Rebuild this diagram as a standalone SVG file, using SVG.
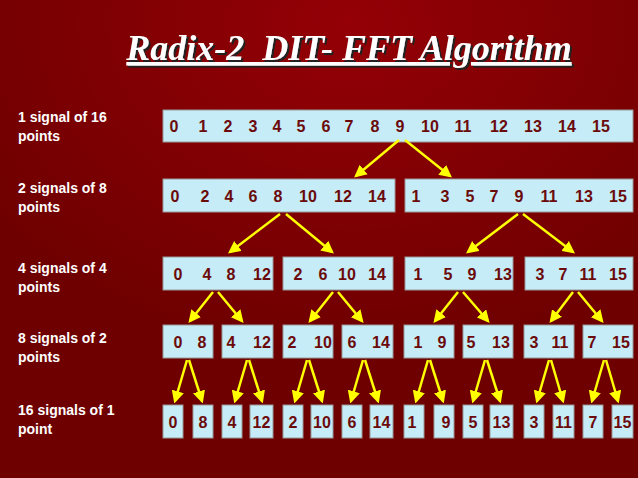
<svg xmlns="http://www.w3.org/2000/svg" width="638" height="478" viewBox="0 0 638 478">
<defs>
<radialGradient id="bg" cx="0.55" cy="0.05" r="0.7">
<stop offset="0" stop-color="#940006"/>
<stop offset="1" stop-color="#6e0000"/>
</radialGradient>
<filter id="sh" x="-5%" y="-20%" width="110%" height="140%">
<feDropShadow dx="2" dy="2" stdDeviation="0.5" flood-color="#222"/>
</filter>
<marker id="ah" markerWidth="5" markerHeight="5" refX="4" refY="2.5" orient="auto" markerUnits="strokeWidth">
<path d="M0,0 L5,2.5 L0,5 z" fill="#ffff00"/>
</marker>
<style>
.b{fill:#c6ecf8;stroke:#9a9a9a;stroke-width:1}
.t{font-family:"Liberation Sans",Arial,sans-serif;font-weight:bold;font-size:16px;fill:#6b0a0a;text-anchor:middle}
.l{font-family:"Liberation Sans",Arial,sans-serif;font-weight:bold;font-size:14px;fill:#ffffff}
.a line{stroke:#ffff00;stroke-width:2.5;marker-end:url(#ah)}
</style>
</defs>
<rect width="638" height="478" fill="url(#bg)"/>
<g id="title" filter="url(#sh)">
<text x="349" y="60" fill="#ffffff" text-decoration="underline" font-family="'Liberation Serif','Times New Roman',serif" font-style="italic" font-weight="bold" font-size="36" text-anchor="middle" xml:space="preserve">Radix-2  DIT- FFT Algorithm</text>
</g>
<g id="labels">
<text class="l" x="18" y="122">1 signal of 16</text><text class="l" x="18" y="141">points</text>
<text class="l" x="18" y="193">2 signals of 8</text><text class="l" x="18" y="212">points</text>
<text class="l" x="18" y="273">4 signals of 4</text><text class="l" x="18" y="292">points</text>
<text class="l" x="18" y="343">8 signals of 2</text><text class="l" x="18" y="362">points</text>
<text class="l" x="18" y="415">16 signals of 1</text><text class="l" x="18" y="434">point</text>
</g>
<g id="row1"><rect class="b" x="163" y="110" width="470" height="32"/>
<text class="t" y="132"><tspan x="174">0</tspan><tspan x="203">1</tspan><tspan x="228">2</tspan><tspan x="253">3</tspan><tspan x="277">4</tspan><tspan x="301">5</tspan><tspan x="326">6</tspan><tspan x="349">7</tspan><tspan x="375">8</tspan><tspan x="400">9</tspan><tspan x="430">10</tspan><tspan x="463">11</tspan><tspan x="499">12</tspan><tspan x="533">13</tspan><tspan x="567">14</tspan><tspan x="601">15</tspan></text></g>
<g id="row2a"><rect class="b" x="163" y="179" width="232" height="33"/><text class="t" y="202"><tspan x="175">0</tspan><tspan x="205">2</tspan><tspan x="229">4</tspan><tspan x="253">6</tspan><tspan x="278">8</tspan><tspan x="308">10</tspan><tspan x="343">12</tspan><tspan x="377">14</tspan></text></g>
<g id="row2b"><rect class="b" x="405" y="179" width="228" height="33"/><text class="t" y="202"><tspan x="416">1</tspan><tspan x="445">3</tspan><tspan x="470">5</tspan><tspan x="494">7</tspan><tspan x="519">9</tspan><tspan x="549">11</tspan><tspan x="584">13</tspan><tspan x="618">15</tspan></text></g>
<g id="row3a"><rect class="b" x="163" y="257" width="110" height="33"/><text class="t" y="280"><tspan x="178">0</tspan><tspan x="207">4</tspan><tspan x="231">8</tspan><tspan x="262">12</tspan></text></g>
<g id="row3b"><rect class="b" x="283" y="257" width="110" height="33"/><text class="t" y="280"><tspan x="298">2</tspan><tspan x="323">6</tspan><tspan x="347">10</tspan><tspan x="377">14</tspan></text></g>
<g id="row3c"><rect class="b" x="405" y="257" width="108" height="33"/><text class="t" y="280"><tspan x="418">1</tspan><tspan x="448">5</tspan><tspan x="472">9</tspan><tspan x="503">13</tspan></text></g>
<g id="row3d"><rect class="b" x="525" y="257" width="108" height="33"/><text class="t" y="280"><tspan x="540">3</tspan><tspan x="563">7</tspan><tspan x="588">11</tspan><tspan x="618">15</tspan></text></g>
<g id="row4">
<rect class="b" x="163" y="325" width="50" height="33"/><text class="t" y="348"><tspan x="178">0</tspan><tspan x="202">8</tspan></text>
<rect class="b" x="222" y="325" width="51" height="33"/><text class="t" y="348"><tspan x="231">4</tspan><tspan x="262">12</tspan></text>
<rect class="b" x="283" y="325" width="50" height="33"/><text class="t" y="348"><tspan x="292">2</tspan><tspan x="323">10</tspan></text>
<rect class="b" x="342" y="325" width="51" height="33"/><text class="t" y="348"><tspan x="352">6</tspan><tspan x="381">14</tspan></text>
<rect class="b" x="404" y="325" width="50" height="33"/><text class="t" y="348"><tspan x="418">1</tspan><tspan x="442">9</tspan></text>
<rect class="b" x="463" y="325" width="50" height="33"/><text class="t" y="348"><tspan x="471">5</tspan><tspan x="501">13</tspan></text>
<rect class="b" x="524" y="325" width="50" height="33"/><text class="t" y="348"><tspan x="534">3</tspan><tspan x="560">11</tspan></text>
<rect class="b" x="583" y="325" width="50" height="33"/><text class="t" y="348"><tspan x="592">7</tspan><tspan x="621">15</tspan></text>
</g>
<g id="row5">
<rect class="b" x="163" y="405" width="20" height="33"/><text class="t" x="173" y="428">0</text>
<rect class="b" x="193" y="405" width="20" height="33"/><text class="t" x="203" y="428">8</text>
<rect class="b" x="222" y="405" width="20" height="33"/><text class="t" x="232" y="428">4</text>
<rect class="b" x="250" y="405" width="23" height="33"/><text class="t" x="261.5" y="428">12</text>
<rect class="b" x="283" y="405" width="20" height="33"/><text class="t" x="293" y="428">2</text>
<rect class="b" x="311" y="405" width="22" height="33"/><text class="t" x="322" y="428">10</text>
<rect class="b" x="342" y="405" width="20" height="33"/><text class="t" x="352" y="428">6</text>
<rect class="b" x="370" y="405" width="23" height="33"/><text class="t" x="381.5" y="428">14</text>
<rect class="b" x="404" y="405" width="20" height="33"/><text class="t" x="412" y="428">1</text>
<rect class="b" x="434" y="405" width="20" height="33"/><text class="t" x="446" y="428">9</text>
<rect class="b" x="463" y="405" width="20" height="33"/><text class="t" x="473" y="428">5</text>
<rect class="b" x="490" y="405" width="23" height="33"/><text class="t" x="501.5" y="428">13</text>
<rect class="b" x="524" y="405" width="20" height="33"/><text class="t" x="534" y="428">3</text>
<rect class="b" x="553" y="405" width="21" height="33"/><text class="t" x="563.5" y="428">11</text>
<rect class="b" x="583" y="405" width="20" height="33"/><text class="t" x="593" y="428">7</text>
<rect class="b" x="612" y="405" width="21" height="33"/><text class="t" x="622.5" y="428">15</text>
</g>
<g id="connectors" class="a">
<line x1="399" y1="140" x2="356" y2="176"/><line x1="405" y1="140" x2="450" y2="176"/>
<line x1="280" y1="214" x2="230" y2="252"/><line x1="286" y1="214" x2="332" y2="252"/>
<line x1="518" y1="214" x2="468" y2="252"/><line x1="523" y1="214" x2="573" y2="252"/>
<line x1="213" y1="292" x2="190" y2="321"/><line x1="218" y1="292" x2="242" y2="321"/>
<line x1="333" y1="292" x2="310" y2="321"/><line x1="338" y1="292" x2="362" y2="321"/>
<line x1="458" y1="292" x2="435" y2="321"/><line x1="463" y1="292" x2="488" y2="321"/>
<line x1="573" y1="292" x2="551" y2="321"/><line x1="578" y1="292" x2="602" y2="321"/>
<line x1="187" y1="360" x2="175" y2="401"/><line x1="189" y1="360" x2="202" y2="401"/>
<line x1="247" y1="360" x2="235" y2="401"/><line x1="249" y1="360" x2="262" y2="401"/>
<line x1="307" y1="360" x2="295" y2="401"/><line x1="309" y1="360" x2="322" y2="401"/>
<line x1="363" y1="360" x2="351" y2="401"/><line x1="365" y1="360" x2="378" y2="401"/>
<line x1="428" y1="360" x2="416" y2="401"/><line x1="430" y1="360" x2="443" y2="401"/>
<line x1="485" y1="360" x2="473" y2="401"/><line x1="487" y1="360" x2="500" y2="401"/>
<line x1="549" y1="360" x2="537" y2="401"/><line x1="551" y1="360" x2="563" y2="401"/>
<line x1="604" y1="360" x2="592" y2="401"/><line x1="606" y1="360" x2="618" y2="401"/>
</g>
</svg>
